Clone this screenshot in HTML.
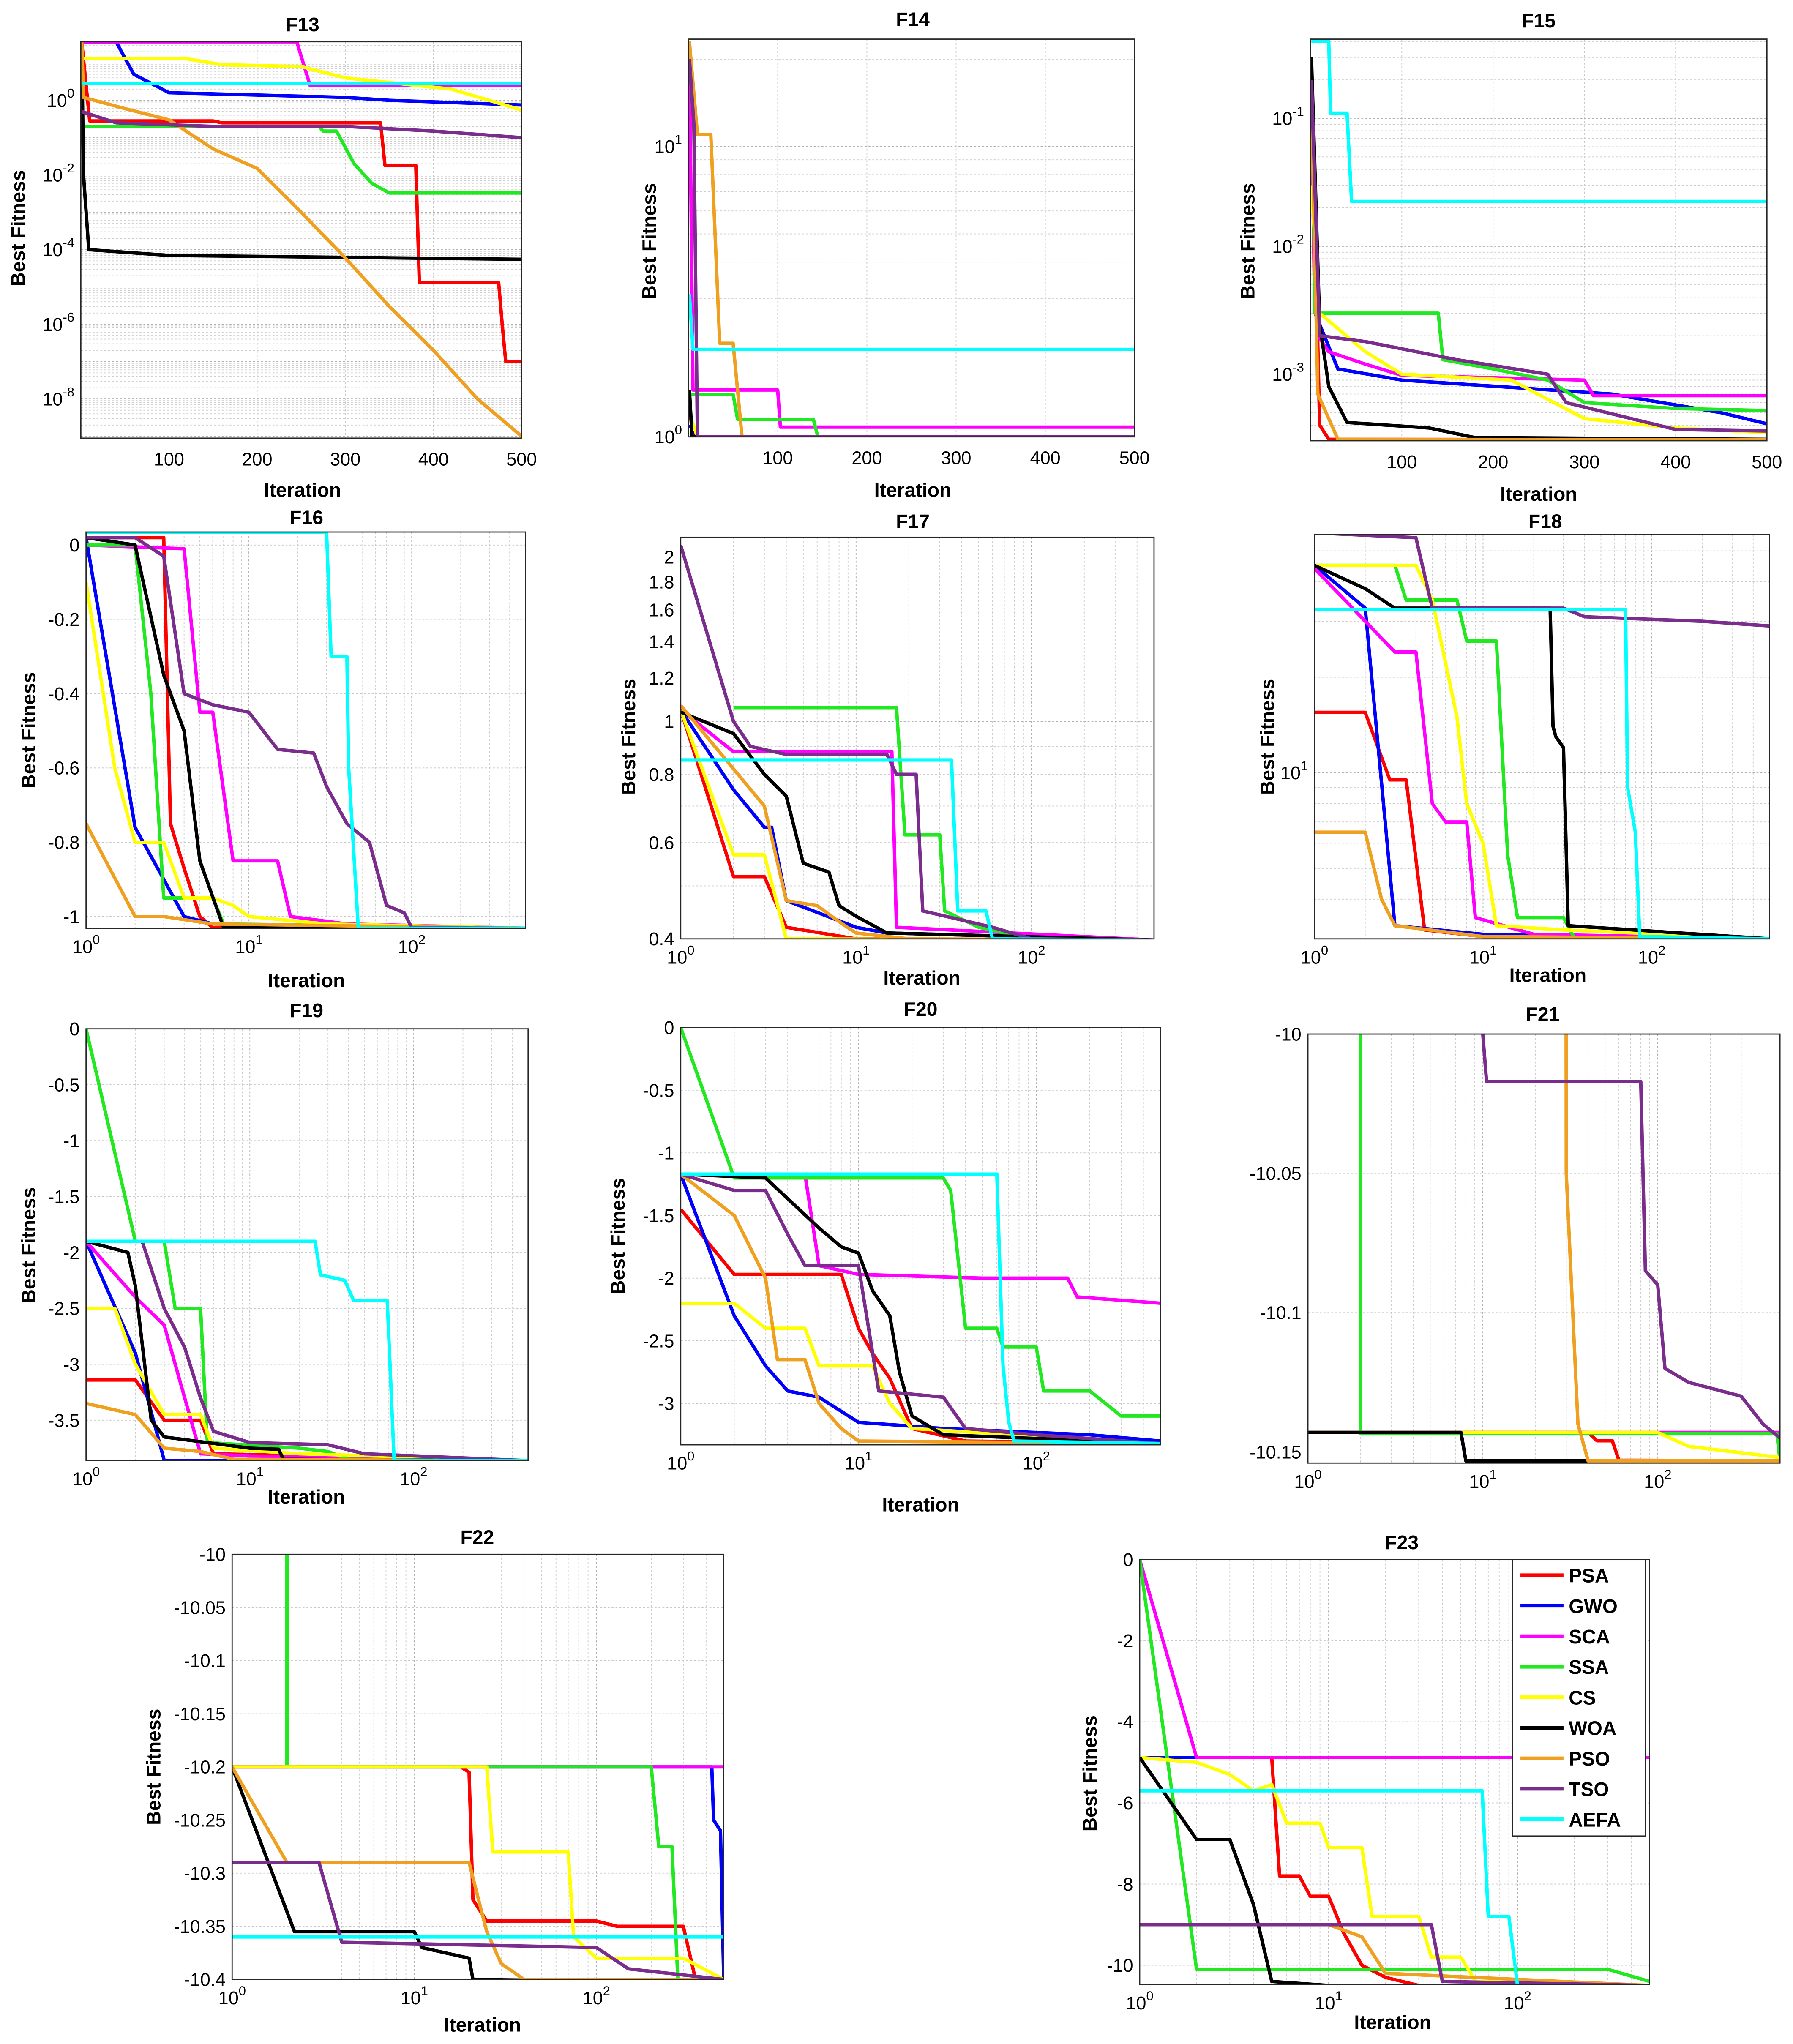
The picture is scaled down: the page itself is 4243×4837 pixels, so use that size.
<!DOCTYPE html>
<html><head><meta charset="utf-8">
<style>
html,body{margin:0;padding:0;background:#fff;}
svg{display:block;font-family:"Liberation Sans",Arial,sans-serif;}
</style></head>
<body>
<svg id="chart" xmlns="http://www.w3.org/2000/svg" width="4243" height="4837" viewBox="0 0 1375 1567.5" preserveAspectRatio="none">
<rect x="0" y="0" width="1375" height="1567.5" fill="#fff"/>
</svg>
<script>
const algNames = ["PSA","GWO","SCA","SSA","CS","WOA","PSO","TSO","AEFA"];
const algColors = ["#ff0000","#0000ff","#ff00ff","#22e822","#ffff00","#000000","#f0a020","#7a2d8c","#00ffff"];

const F13 = [
 [[1,37],[10,0.28],[150,0.28],[160,0.25],[340,0.25],[345,0.018],[380,0.018],[384,1.3e-5],[474,1.3e-5],[478,1e-6],[482,1e-7],[500,1e-7]],
 [[1,37],[40,37],[60,5],[100,1.6],[300,1.2],[350,1.0],[500,0.75]],
 [[1,37],[245,37],[260,2.5],[500,2.5]],
 [[1,0.2],[270,0.2],[275,0.15],[290,0.15],[310,0.02],[330,0.006],[350,0.0033],[500,0.0033]],
 [[1,13],[120,13],[160,9],[250,8],[300,4],[420,2],[500,0.55]],
 [[1,37],[3,0.01],[9,1e-4],[100,7e-5],[500,5.5e-5]],
 [[1,37],[3,1.2],[50,0.6],[100,0.3],[150,0.05],[200,0.015],[250,1e-3],[300,6e-5],[350,3e-6],[400,2e-7],[450,1e-8],[500,1e-9]],
 [[1,0.5],[40,0.25],[150,0.2],[300,0.2],[400,0.15],[500,0.1]],
 [[1,2.8],[500,2.8]]
];
const F14 = [
 [[1,1.2],[8,1.0],[500,1.0]],
 [[1,1.1],[10,1.0],[500,1.0]],
 [[1,23],[5,1.45],[100,1.45],[103,1.08],[500,1.08]],
 [[1,1.4],[50,1.4],[55,1.15],[140,1.15],[145,1.0],[500,1.0]],
 [[1,1.2],[10,1.0],[500,1.0]],
 [[1,1.45],[4,1.0],[500,1.0]],
 [[1,23],[10,11],[25,11],[35,2.1],[50,2.1],[60,1.0],[500,1.0]],
 [[1,20],[6,12],[10,1.0],[500,0.999]],
 [[1,3.1],[5,2.0],[500,2.0]]
];
const F15 = [
 [[1,0.25],[10,0.0004],[20,0.00031],[500,0.000307]],
 [[1,0.2],[5,0.003],[30,0.0011],[100,0.0009],[330,0.0007],[450,0.0005],[500,0.00041]],
 [[1,0.15],[4,0.006],[8,0.002],[20,0.0015],[60,0.0012],[100,0.00098],[300,0.0009],[310,0.00068],[500,0.00068]],
 [[1,0.28],[5,0.003],[140,0.003],[145,0.0013],[200,0.0011],[260,0.0009],[300,0.0006],[400,0.00054],[500,0.00052]],
 [[1,0.03],[10,0.003],[60,0.0015],[100,0.001],[220,0.0009],[300,0.00045],[400,0.00038],[500,0.00035]],
 [[1,0.3],[10,0.0025],[20,0.0008],[40,0.00042],[130,0.00038],[180,0.00032],[500,0.00031]],
 [[1,0.15],[8,0.0007],[30,0.00031],[500,0.000307]],
 [[1,0.2],[10,0.002],[60,0.0018],[160,0.0013],[260,0.001],[280,0.0006],[400,0.00037],[500,0.00036]],
 [[1,0.4],[20,0.4],[22,0.11],[40,0.11],[45,0.0224],[500,0.0224]]
];
const F16 = [
 [[1,0.02],[3,0.02],[3.3,-0.75],[4,-0.87],[5,-1.0],[6,-1.03],[500,-1.0316]],
 [[1,0.02],[2,-0.76],[3,-0.9],[4,-1.0],[6,-1.02],[500,-1.0316]],
 [[1,0],[4,-0.01],[5,-0.45],[6,-0.45],[8,-0.85],[15,-0.85],[18,-1.0],[40,-1.02],[500,-1.0316]],
 [[1,0],[2,0],[2.5,-0.4],[3,-0.95],[6,-0.95],[7,-1.02],[500,-1.0316]],
 [[1,-0.1],[1.5,-0.6],[2,-0.8],[3,-0.8],[4,-0.95],[6,-0.95],[8,-0.97],[10,-1.0],[30,-1.02],[500,-1.0316]],
 [[1,0.02],[2,0],[3,-0.35],[4,-0.5],[5,-0.85],[7,-1.03],[500,-1.0316]],
 [[1,-0.75],[2,-1.0],[3,-1.0],[6,-1.02],[500,-1.0316]],
 [[1,0.02],[2,0.02],[3,-0.03],[4,-0.4],[6,-0.43],[10,-0.45],[15,-0.55],[25,-0.56],[30,-0.65],[40,-0.75],[55,-0.8],[70,-0.97],[90,-0.99],[100,-1.03],[500,-1.0316]],
 [[1,0.035],[30,0.035],[32,-0.3],[40,-0.3],[41,-0.6],[47,-1.0316],[500,-1.0316]]
];
const F17 = [
 [[1,1.05],[2,0.52],[3,0.52],[4,0.42],[10,0.4],[500,0.398]],
 [[1,1.05],[2,0.75],[3,0.64],[3.3,0.64],[4,0.47],[10,0.42],[15,0.41],[500,0.398]],
 [[1,1.05],[2,0.88],[16,0.88],[17,0.42],[500,0.398]],
 [[2,1.06],[17,1.06],[19,0.62],[30,0.62],[32,0.45],[50,0.42],[100,0.4],[500,0.398]],
 [[1,1.05],[2,0.57],[3,0.57],[4,0.4],[500,0.398]],
 [[1,1.04],[2,0.95],[3,0.8],[4,0.73],[5,0.55],[7,0.53],[8,0.46],[10,0.44],[15,0.41],[500,0.398]],
 [[1,1.07],[3,0.7],[4,0.47],[6,0.46],[8,0.43],[10,0.41],[20,0.4],[500,0.398]],
 [[1,2.1],[2,1.0],[2.5,0.9],[4,0.87],[15,0.87],[17,0.8],[22,0.8],[24,0.45],[60,0.42],[100,0.4],[500,0.398]],
 [[1,0.85],[35,0.85],[38,0.45],[55,0.45],[60,0.4],[500,0.398]]
];
const F18 = [
 [[1,15.5],[2,15.5],[2.8,9.5],[3.5,9.5],[4.5,3.2],[10,3.05],[500,3]],
 [[1,45],[2,33],[3,3.3],[10,3.1],[500,3]],
 [[1,44],[3,24],[4,24],[5,8],[6,7],[8,7],[9,3.5],[20,3.1],[500,3]],
 [[1,45],[3,45],[3.5,35],[7,35],[8,26],[12,26],[14,5.5],[16,3.5],[30,3.5],[35,3.0],[500,3]],
 [[1,45],[4,45],[5,35],[7,15],[8,8],[10,6],[12,3.3],[30,3.2],[500,3]],
 [[1,45],[2,38],[3,33],[25,33],[26,14],[27,13],[30,12],[32,3.3],[500,3]],
 [[1,6.5],[2,6.5],[2.5,4],[3,3.3],[10,3.05],[500,3]],
 [[1,57],[4,55],[5,33],[30,33],[40,31],[200,30],[500,29]],
 [[1,32.7],[70,32.7],[72,9],[80,6.5],[85,3.05],[500,3]]
];
const F19 = [
 [[1,-3.14],[2,-3.14],[3,-3.5],[5,-3.5],[6,-3.8],[500,-3.862]],
 [[1,-1.9],[2,-2.9],[3,-3.86],[500,-3.862]],
 [[1,-1.9],[2,-2.4],[3,-2.65],[4,-3.3],[5,-3.8],[10,-3.82],[500,-3.862]],
 [[1,0],[2,-1.9],[3,-1.9],[3.5,-2.5],[5,-2.5],[5.5,-3.7],[20,-3.75],[30,-3.78],[40,-3.85],[500,-3.862]],
 [[1,-2.5],[1.5,-2.5],[2,-3.0],[3,-3.45],[5,-3.45],[6,-3.75],[20,-3.8],[500,-3.86]],
 [[1,-1.9],[1.8,-2.0],[2,-2.3],[2.5,-3.5],[3,-3.65],[10,-3.75],[15,-3.76],[16,-3.85],[500,-3.86]],
 [[1,-3.35],[2,-3.45],[3,-3.75],[5,-3.78],[8,-3.85],[500,-3.862]],
 [[1,-1.9],[2.2,-1.9],[3,-2.5],[4,-2.85],[5,-3.3],[6,-3.6],[10,-3.7],[30,-3.72],[50,-3.8],[500,-3.862]],
 [[1,-1.9],[25,-1.9],[27,-2.2],[38,-2.25],[43,-2.43],[69,-2.43],[76,-3.86],[500,-3.86]]
];
const F20 = [
 [[1,-1.45],[2,-1.97],[8,-1.97],[10,-2.4],[12,-2.6],[15,-2.8],[20,-3.2],[40,-3.3],[500,-3.32]],
 [[1,-1.17],[2,-2.3],[3,-2.7],[4,-2.9],[6,-2.95],[10,-3.15],[30,-3.2],[200,-3.25],[500,-3.3]],
 [[1,-1.17],[5,-1.17],[6,-1.9],[10,-1.97],[50,-2.0],[150,-2.0],[170,-2.15],[500,-2.2]],
 [[1,0],[2,-1.2],[30,-1.2],[33,-1.3],[40,-2.4],[60,-2.4],[65,-2.55],[100,-2.55],[110,-2.9],[200,-2.9],[300,-3.1],[500,-3.1]],
 [[1,-2.2],[2,-2.2],[3,-2.4],[5,-2.4],[6,-2.7],[12,-2.7],[15,-3.0],[20,-3.2],[500,-3.32]],
 [[1,-1.17],[3,-1.2],[6,-1.6],[8,-1.75],[10,-1.8],[12,-2.1],[15,-2.3],[17,-2.75],[20,-3.1],[30,-3.25],[500,-3.32]],
 [[1,-1.17],[2,-1.5],[3,-2.0],[3.5,-2.65],[5,-2.65],[6,-3.0],[8,-3.2],[10,-3.3],[500,-3.32]],
 [[1,-1.17],[2,-1.3],[3,-1.3],[4,-1.65],[5,-1.9],[10,-1.9],[13,-2.9],[30,-2.95],[40,-3.2],[100,-3.25],[500,-3.32]],
 [[1,-1.17],[60,-1.17],[65,-2.7],[70,-3.15],[75,-3.3],[500,-3.32]]
];
const F21 = [
 [[1,-10.143],[40,-10.143],[45,-10.146],[55,-10.146],[60,-10.153],[500,-10.1532]],
 [[1,-10.143],[7.5,-10.143],[8,-10.1532],[500,-10.1532]],
 [[1,-10.143],[500,-10.143]],
 [[1.99,-9.5],[2,-10.1435],[480,-10.1435],[500,-10.153]],
 [[1,-10.143],[100,-10.143],[150,-10.148],[500,-10.152]],
 [[1,-10.143],[7.5,-10.143],[8,-10.1532],[500,-10.1532]],
 [[29.5,-9.5],[30,-10.05],[35,-10.14],[40,-10.1532],[500,-10.1532]],
 [[8,-9.5],[10,-10.0],[10.5,-10.017],[80,-10.017],[85,-10.085],[100,-10.09],[110,-10.12],[150,-10.125],[300,-10.13],[400,-10.14],[500,-10.145]],
 []
];
const F22 = [
 [[1,-10.2],[18,-10.2],[20,-10.205],[21,-10.325],[25,-10.345],[100,-10.345],[130,-10.35],[300,-10.35],[350,-10.4],[500,-10.4]],
 [[1,-10.2],[430,-10.2],[440,-10.25],[480,-10.26],[500,-10.4]],
 [[1,-10.2],[500,-10.2]],
 [[2,-9.5],[2,-10.2],[200,-10.2],[220,-10.275],[260,-10.275],[280,-10.4],[500,-10.4]],
 [[1,-10.2],[25,-10.2],[27,-10.28],[70,-10.28],[75,-10.36],[100,-10.38],[300,-10.38],[500,-10.4]],
 [[1,-10.2],[2.2,-10.355],[10,-10.355],[11,-10.37],[20,-10.38],[21,-10.4],[500,-10.403]],
 [[1,-10.2],[2,-10.29],[20,-10.29],[25,-10.355],[30,-10.385],[40,-10.4],[500,-10.4]],
 [[1,-10.29],[3,-10.29],[4,-10.365],[100,-10.37],[150,-10.39],[500,-10.4]],
 [[1,-10.36],[500,-10.36]]
];
const F23 = [
 [[1,-4.88],[5,-4.88],[5.5,-7.8],[7,-7.8],[8,-8.3],[10,-8.3],[12,-9.2],[15,-10],[20,-10.3],[30,-10.5],[500,-10.5]],
 [[1,-4.88],[500,-4.88]],
 [[1,0],[2,-4.88],[500,-4.88]],
 [[1,0],[2,-10.1],[300,-10.1],[500,-10.4]],
 [[1,-4.88],[2,-5.0],[3,-5.3],[4,-5.7],[5,-5.55],[6,-6.5],[9,-6.5],[10,-7.1],[15,-7.1],[17,-8.8],[30,-8.8],[35,-9.8],[50,-9.8],[60,-10.4],[500,-10.5]],
 [[1,-4.88],[2,-6.9],[3,-6.9],[4,-8.5],[5,-10.4],[10,-10.5],[500,-10.5]],
 [[10,-9.0],[15,-9.3],[20,-10.2],[500,-10.5]],
 [[1,-9.0],[35,-9.0],[40,-10.4],[500,-10.5]],
 [[1,-5.7],[65,-5.7],[70,-8.8],[90,-8.8],[100,-10.5],[500,-10.5]]
];

const linIterTicks = [100,200,300,400,500];
const logIterTicks = [0,1,2];
const F13yTicks = [0,-2,-4,-6,-8];
const F14yTicks = [0,1];
const F15yTicks = [-1,-2,-3];
const F16yTicks = [0,-0.2,-0.4,-0.6,-0.8,-1];
const F17yTicks = [2,1.8,1.6,1.4,1.2,1,0.8,0.6,0.4];
const F18yTicks = [1];
const F19yTicks = [0,-0.5,-1,-1.5,-2,-2.5,-3,-3.5];
const F20yTicks = [0,-0.5,-1,-1.5,-2,-2.5,-3];
const F21yTicks = [-10,-10.05,-10.1,-10.15];
const F22yTicks = [-10,-10.05,-10.1,-10.15,-10.2,-10.25,-10.3,-10.35,-10.4];
const F23yTicks = [0,-2,-4,-6,-8,-10];

const NS = "http://www.w3.org/2000/svg";
const svg = document.getElementById("chart");
function mk(tag, attrs, parent){
  const e = document.createElementNS(NS, tag);
  for (const k in attrs) e.setAttribute(k, attrs[k]);
  (parent||svg).appendChild(e);
  return e;
}
function powText(parent, x, y, exp, anchor, nameStr){
  const t = mk("text",{x:x,y:y,"font-size":14,"text-anchor":anchor,fill:"#000"},parent);
  
  
  t.appendChild(document.createTextNode("10"));
  const s = mk("tspan",{dy:-7,"font-size":10},t);
  s.textContent = String(exp);
  return t;
}

function panel(c, series, yTicks){
  const g = mk("g",{});
  
  
  const W = c.x1-c.x0, H = c.y1-c.y0;
  const xs = v => c.xlog ? c.x0 + (Math.log10(v))/Math.log10(500)*W
                        : c.x0 + v/500*W;
  const yt = c.ylog ? Math.log10 : (v=>v);
  const yTop = c.ydom[0], yBot = c.ydom[1];
  const ys = v => c.y0 + (yTop - yt(v))/(yTop - yBot)*H;
  const grid = mk("g",{stroke:"#c8c8c8","stroke-width":0.6,"stroke-dasharray":"1.5 1.5"},g);
  
  
  if (c.xlog){
    for (let d=0; d<=2; d++) for (let m=1; m<10; m++){
      const v = m*Math.pow(10,d); if (v>500) break;
      const px = xs(v); if (px<=c.x0+0.5) continue;
      mk("line",{x1:px,x2:px,y1:c.y0,y2:c.y1, "stroke": m===1?"#b0b0b0":"#cccccc"},grid);
    }
  } else {
    for (const v of linIterTicks){ const px=xs(v); mk("line",{x1:px,x2:px,y1:c.y0,y2:c.y1},grid); }
  }
  if (c.ylog){
    const lo = Math.floor(yBot), hi = Math.ceil(yTop);
    for (let d=lo; d<=hi; d++) for (let m=1; m<10; m++){
      const lv = Math.log10(m)+d; if (lv>yTop||lv<yBot) continue;
      const py = c.y0 + (yTop-lv)/(yTop-yBot)*H;
      mk("line",{x1:c.x0,x2:c.x1,y1:py,y2:py,"stroke": m===1?"#b0b0b0":"#cccccc"},grid);
    }
  } else {
    for (const v of yTicks){ const py=ys(v); mk("line",{x1:c.x0,x2:c.x1,y1:py,y2:py},grid); }
  }
  const cid = "clip"+c.id;
  const cp = mk("clipPath",{id:cid},g);
  mk("rect",{x:c.x0,y:c.y0,width:W,height:H},cp);
  const lines = mk("g",{"clip-path":"url(#"+cid+")"},g);
  series.forEach((pts,i)=>{
    if (!pts.length) return;
    const d = pts.map((p,j)=>(j?"L":"M")+xs(p[0]).toFixed(2)+","+ys(p[1]).toFixed(2)).join("");
    const p = mk("path",{d:d,fill:"none",stroke:algColors[i],"stroke-width":2.6,"stroke-linejoin":"round"},lines);
    
    
  });
  const fr = mk("rect",{x:c.x0,y:c.y0,width:W,height:H,fill:"none",stroke:"#262626","stroke-width":0.9},g);
  
  
  if (c.xlog){
    for (const e of logIterTicks){ powText(g, xs(Math.pow(10,e)), c.y1+19, e, "middle", "x-tick-label"); }
  } else {
    for (const v of linIterTicks){
      const t = mk("text",{x:xs(v),y:c.y1+21,"font-size":14,"text-anchor":"middle"},g);
      
      
      t.textContent = v;
    }
  }
  for (const v of yTicks){
    if (c.ylog){
      powText(g, c.x0-5, c.y0+(yTop-v)/(yTop-yBot)*H+5, v, "end", "y-tick-label");
    } else {
      const t = mk("text",{x:c.x0-5,y:ys(v)+5,"font-size":14,"text-anchor":"end"},g);
      
      
      t.textContent = String(v);
    }
  }
  const tt = mk("text",{x:c.tx,y:c.ty,"font-size":15,"font-weight":"bold","text-anchor":"middle"},g);
  
  
  tt.textContent = c.id;
  if (c.xl){
    const xl = mk("text",{x:c.xl[0],y:c.xl[1],"font-size":15,"font-weight":"bold","text-anchor":"middle"},g);
    
    
    xl.textContent = "Iteration";
  }
  if (c.yl){
    const yl = mk("text",{x:0,y:0,"font-size":15,"font-weight":"bold","text-anchor":"middle",transform:"translate("+c.yl[0]+","+c.yl[1]+") rotate(-90)"},g);
    
    
    yl.textContent = "Best Fitness";
  }
}

panel({id:"F13",x0:62,x1:400,y0:32,y1:336,xlog:false,ylog:true,ydom:[1.57,-9.05],tx:232,ty:24,xl:[232,381],yl:[19,175]},F13,F13yTicks);
panel({id:"F14",x0:528,x1:870,y0:30,y1:335,xlog:false,ylog:true,ydom:[1.37,0],tx:700,ty:20,xl:[700,381],yl:[503,185]},F14,F14yTicks);
panel({id:"F15",x0:1005,x1:1355,y0:30,y1:338,xlog:false,ylog:true,ydom:[-0.38,-3.52],tx:1180,ty:21,xl:[1180,384],yl:[962,185]},F15,F15yTicks);
panel({id:"F16",x0:66,x1:403,y0:408,y1:712,xlog:true,ylog:false,ydom:[0.035,-1.032],tx:235,ty:402,xl:[235,757],yl:[27,560]},F16,F16yTicks);
panel({id:"F17",x0:522,x1:885,y0:412,y1:720,xlog:true,ylog:true,ydom:[0.337,Math.log10(0.4)],tx:700,ty:405,xl:[707,755],yl:[487,565]},F17,[]);
panel({id:"F18",x0:1008,x1:1357,y0:410,y1:720,xlog:true,ylog:true,ydom:[1.75,0.477],tx:1185,ty:405,xl:[1187,753],yl:[977,565]},F18,F18yTicks);
panel({id:"F19",x0:66,x1:405,y0:789,y1:1120,xlog:true,ylog:false,ydom:[0,-3.86],tx:235,ty:780,xl:[235,1153],yl:[27,955]},F19,F19yTicks);
panel({id:"F20",x0:522,x1:890,y0:788,y1:1108,xlog:true,ylog:false,ydom:[0,-3.33],tx:706,ty:779,xl:[706,1159],yl:[479,948]},F20,F20yTicks);
panel({id:"F21",x0:1003,x1:1365,y0:793,y1:1122,xlog:true,ylog:false,ydom:[-10,-10.154],tx:1183,ty:783,xl:null,yl:null},F21,F21yTicks);
panel({id:"F22",x0:178,x1:555,y0:1192,y1:1518,xlog:true,ylog:false,ydom:[-10,-10.4],tx:366,ty:1184,xl:[370,1558],yl:[123,1355]},F22,F22yTicks);
panel({id:"F23",x0:874,x1:1265,y0:1196,y1:1522,xlog:true,ylog:false,ydom:[0,-10.48],tx:1075,ty:1188,xl:[1068,1556],yl:[841,1360]},F23,F23yTicks);

(function(){
  const y0=412,y1=720,top=0.337,bot=Math.log10(0.4);
  for (const v of F17yTicks){
    const py = y0+(top-Math.log10(v))/(top-bot)*(y1-y0);
    const t = mk("text",{x:517,y:py+5,"font-size":14,"text-anchor":"end"});
    
    
    t.textContent = String(v);
  }
})();

(function(){
  const lg = mk("g",{});
  
  
  mk("rect",{x:1160,y:1196,width:102,height:212,fill:"#fff",stroke:"#262626","stroke-width":0.9},lg);
  algNames.forEach((n,i)=>{
    const y = 1208 + i*23.4;
    const e = mk("g",{},lg);
    
    
    mk("line",{x1:1166,x2:1199,y1:y,y2:y,stroke:algColors[i],"stroke-width":2.8},e);
    const t = mk("text",{x:1203,y:y+5.5,"font-size":15,"font-weight":"bold"},e);
    t.textContent = n;
  });
})();
</script>
</body></html>
